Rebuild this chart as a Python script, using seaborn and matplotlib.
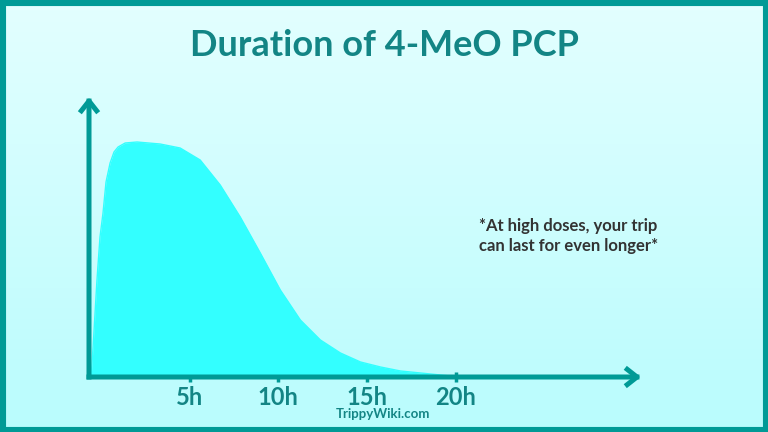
import numpy as np
import pandas as pd
import matplotlib
matplotlib.use('Agg')
import matplotlib.pyplot as plt
import seaborn as sns

# Curve (hours, relative intensity)
hours = [-0.56, -0.45, -0.23, -0.06, 0.11, 0.28, 0.51, 0.73, 0.96, 1.36, 2.03,
         3.33, 4.46, 5.59, 6.72, 7.85, 8.98, 10.11, 11.24, 12.37, 13.5, 14.63,
         15.76, 16.89, 18.02, 19.15, 20.3]
intensity = [0, 30, 97, 140, 164, 195, 214, 225, 230, 234, 235,
             233, 229, 217, 192, 160, 124, 87, 57, 37, 24, 15,
             10, 6, 4, 2, 0]
tick_hours = [5, 10, 15, 20]
tick_labels = ['5h', '10h', '15h', '20h']

title = 'Duration of 4-MeO PCP'
note = '*At high doses, your trip\ncan last for even longer*'
credit = 'TrippyWiki.com'

teal = '#009a96'
text_teal = '#138585'
cyan = '#33ffff'

data = pd.DataFrame({'hours': hours, 'intensity': intensity})

sns.set_style('white')
plt.rcParams['font.family'] = ['Lato', 'DejaVu Sans']

fig = plt.figure(figsize=(7.68, 4.32), dpi=100)

# gradient background
bg = fig.add_axes([0, 0, 1, 1])
grad = np.linspace(0, 1, 256).reshape(-1, 1)
cmap = matplotlib.colors.LinearSegmentedColormap.from_list('bg', ['#e3ffff', '#b9fcfd'])
bg.imshow(grad, aspect='auto', cmap=cmap, extent=[0, 1, 0, 1], origin='upper')
bg.set_xlim(0, 1)
bg.set_ylim(0, 1)
bg.axis('off')
# border
bg.add_patch(plt.Rectangle((0, 0), 1, 1, transform=bg.transAxes, fill=False,
                           edgecolor=teal, lw=8, clip_on=True))

ax = fig.add_axes([89 / 768, 55 / 432, (641 - 89) / 768, (377 - 97) / 432])
ax.patch.set_alpha(0)
ax.fill_between(data['hours'], data['intensity'], 0, color=cyan, lw=0)
sns.lineplot(data=data, x='hours', y='intensity', ax=ax, color=cyan, lw=1)

xmin = -0.68
xmax = 30.45
ax.set_xlim(xmin, xmax)
ax.set_ylim(0, 280)
for s in ax.spines.values():
    s.set_visible(False)

arrow = dict(arrowstyle='->,head_length=0.7,head_width=0.55', lw=3.6,
             color=teal, shrinkA=0, shrinkB=0, capstyle='projecting')
ax.annotate('', xy=(xmax, 0), xytext=(xmin, 0), arrowprops=arrow,
            annotation_clip=False)
ax.annotate('', xy=(xmin, 280), xytext=(xmin, 0), arrowprops=arrow,
            annotation_clip=False)

ax.set_xticks(tick_hours)
ax.set_xticklabels(tick_labels)
ax.set_yticks([])
ax.tick_params(axis='x', direction='inout', length=7, width=2.5, color=teal,
               pad=3, labelsize=17, labelcolor=text_teal, bottom=True)
for lbl in ax.get_xticklabels():
    lbl.set_fontweight('bold')
ax.set_xlabel('')
ax.set_ylabel('')

fig.text(0.5, 1 - 45 / 432, title, ha='center', va='center', fontsize=26,
         fontweight='bold', color=text_teal)
fig.text(479 / 768, 1 - 236 / 432, note, ha='left', va='center', fontsize=12,
         fontweight='bold', color='#333333', linespacing=1.25)
fig.text(383 / 768, 1 - 414 / 432, credit, ha='center', va='center', fontsize=9.5,
         fontweight='bold', color=text_teal)

fig.savefig('out.png', dpi=100)
